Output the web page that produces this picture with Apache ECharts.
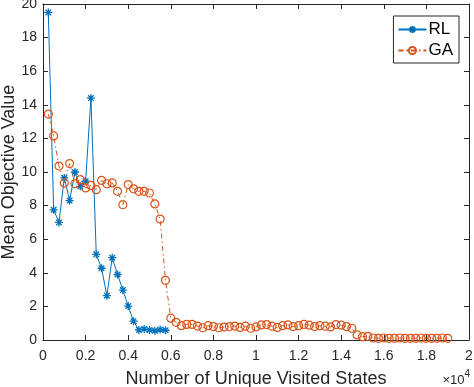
<!DOCTYPE html>
<html>
<head>
<meta charset="utf-8">
<script src="https://cdn.jsdelivr.net/npm/echarts@6/dist/echarts.min.js"></script>
<style>html,body{margin:0;padding:0;background:#fff;}#c{width:474px;height:387px;}</style>
</head>
<body>
<div id="c"></div>
<script>
// x values are "Number of Unique Visited States" in units of 10^4
const rlStates = [0.025,0.05,0.075,0.1,0.125,0.15,0.175,0.2,0.225,0.25,0.275,0.3,0.325,0.35,0.375,0.4,0.425,0.45,0.475,0.5,0.525,0.55,0.575];
const rlValues = [19.5,7.75,7.0,9.65,8.3,10.0,9.15,9.45,14.4,5.1,4.27,2.64,4.9,3.9,2.97,2.02,1.12,0.6,0.65,0.6,0.55,0.62,0.58];

const gaStates = [0.025,0.05,0.075,0.1,0.125,0.15,0.175,0.2,0.225,0.25,0.275,0.3,0.325,0.35,0.375,0.4,0.425,0.45,0.475,0.5,
  0.525,0.55,0.575,0.6,0.625,0.65,0.675,0.7,0.725,0.75,0.775,0.8,0.825,0.85,0.875,0.9,0.925,0.95,0.975,1.0,
  1.025,1.05,1.075,1.1,1.125,1.15,1.175,1.2,1.225,1.25,1.275,1.3,1.325,1.35,1.375,1.4,1.425,1.45,1.475,1.5,
  1.525,1.55,1.575,1.6,1.625,1.65,1.675,1.7,1.725,1.75,1.775,1.8,1.825,1.85,1.875,1.9];
const gaValues = [13.45,12.15,10.35,9.35,10.5,9.3,9.55,9.05,9.2,8.95,9.5,9.3,9.35,8.85,8.05,9.25,9.0,8.85,8.85,8.75,
  8.1,7.2,3.55,1.3,1.05,0.85,0.93,0.93,0.83,0.73,0.85,0.8,0.73,0.77,0.8,0.83,0.75,0.82,0.7,0.78,
  0.9,0.92,0.82,0.75,0.85,0.9,0.8,0.85,0.93,0.88,0.8,0.85,0.82,0.78,0.92,0.88,0.8,0.7,0.3,0.2,
  0.22,0.12,0.1,0.12,0.1,0.1,0.12,0.1,0.1,0.1,0.12,0.1,0.1,0.1,0.12,0.1];

const xTicks = {min: 0, max: 2, interval: 0.2};
const yTicks = {min: 0, max: 20, interval: 2};

const seriesNames = ['RL', 'GA'];
const axisColor = '#262626';
const font = 'Liberation Sans, Arial, Helvetica, sans-serif';
const asterisk = 'path://M5,0L5,10M0,5L10,5M1.5,1.5L8.5,8.5M8.5,1.5L1.5,8.5';

const chart = echarts.init(document.getElementById('c'), null, {renderer: 'canvas'});
const axisCommon = {
  axisLine: {show: true, onZero: false, lineStyle: {color: axisColor, width: 1}},
  axisTick: {show: true, inside: true, length: 5, lineStyle: {color: axisColor}},
  splitLine: {show: false}
};
chart.setOption({
  animation: false,
  backgroundColor: '#fff',
  textStyle: {fontFamily: font},
  grid: {left: 43, right: 5, top: 4, bottom: 47, containLabel: false, outerBoundsMode: 'none'},
  legend: {
    orient: 'vertical', right: 15, top: 16,
    data: seriesNames,
    backgroundColor: '#fff', borderColor: axisColor, borderWidth: 1,
    padding: [5, 6, 4, 4], itemGap: 4, itemWidth: 28, itemHeight: 9,
    textStyle: {fontSize: 17, color: '#000', fontFamily: font, padding: [0, 0, 0, -3]}
  },
  xAxis: [
    Object.assign({type: 'value', position: 'bottom', min: xTicks.min, max: xTicks.max, interval: xTicks.interval,
      name: 'Number of Unique Visited States', nameLocation: 'middle', nameGap: 30, nameMoveOverlap: false,
      nameTextStyle: {fontSize: 18, color: axisColor, fontFamily: font},
      axisLabel: {fontSize: 14, color: axisColor, margin: 9, fontFamily: font}}, axisCommon),
    Object.assign({type: 'value', position: 'top', min: xTicks.min, max: xTicks.max, interval: xTicks.interval,
      axisLabel: {show: false}}, axisCommon)
  ],
  yAxis: [
    Object.assign({type: 'value', position: 'left', min: yTicks.min, max: yTicks.max, interval: yTicks.interval,
      name: 'Mean Objective Value', nameLocation: 'middle', nameGap: 25, nameMoveOverlap: false,
      nameTextStyle: {fontSize: 18, color: axisColor, fontFamily: font},
      axisLabel: {fontSize: 14, color: axisColor, margin: 6, fontFamily: font}}, axisCommon),
    Object.assign({type: 'value', position: 'right', min: yTicks.min, max: yTicks.max, interval: yTicks.interval,
      axisLabel: {show: false}}, axisCommon)
  ],
  graphic: [{
    type: 'text', right: 4, top: 369,
    style: {
      text: '{a|×10}{b|4}',
      rich: {
        a: {fontSize: 13, fill: axisColor, fontFamily: font, verticalAlign: 'bottom'},
        b: {fontSize: 10, fill: axisColor, fontFamily: font, verticalAlign: 'top', padding: [0, 0, 8, 0]}
      }
    }
  }],
  series: [
    {
      name: seriesNames[0], type: 'line',
      data: rlStates.map((x, i) => [x, rlValues[i]]),
      symbol: asterisk, symbolSize: 8,
      itemStyle: {color: '#0072BD', borderColor: '#0072BD', borderWidth: 1.3},
      lineStyle: {color: '#0072BD', width: 1},
      emphasis: {disabled: true}
    },
    {
      name: seriesNames[1], type: 'line',
      data: gaStates.map((x, i) => [x, gaValues[i]]),
      symbol: 'circle', symbolSize: 8,
      itemStyle: {color: 'rgba(255,255,255,0)', borderColor: '#D95319', borderWidth: 1.2},
      lineStyle: {color: '#D95319', width: 1, type: [5, 3, 1.5, 3]},
      emphasis: {disabled: true}
    }
  ]
});
</script>
</body>
</html>
